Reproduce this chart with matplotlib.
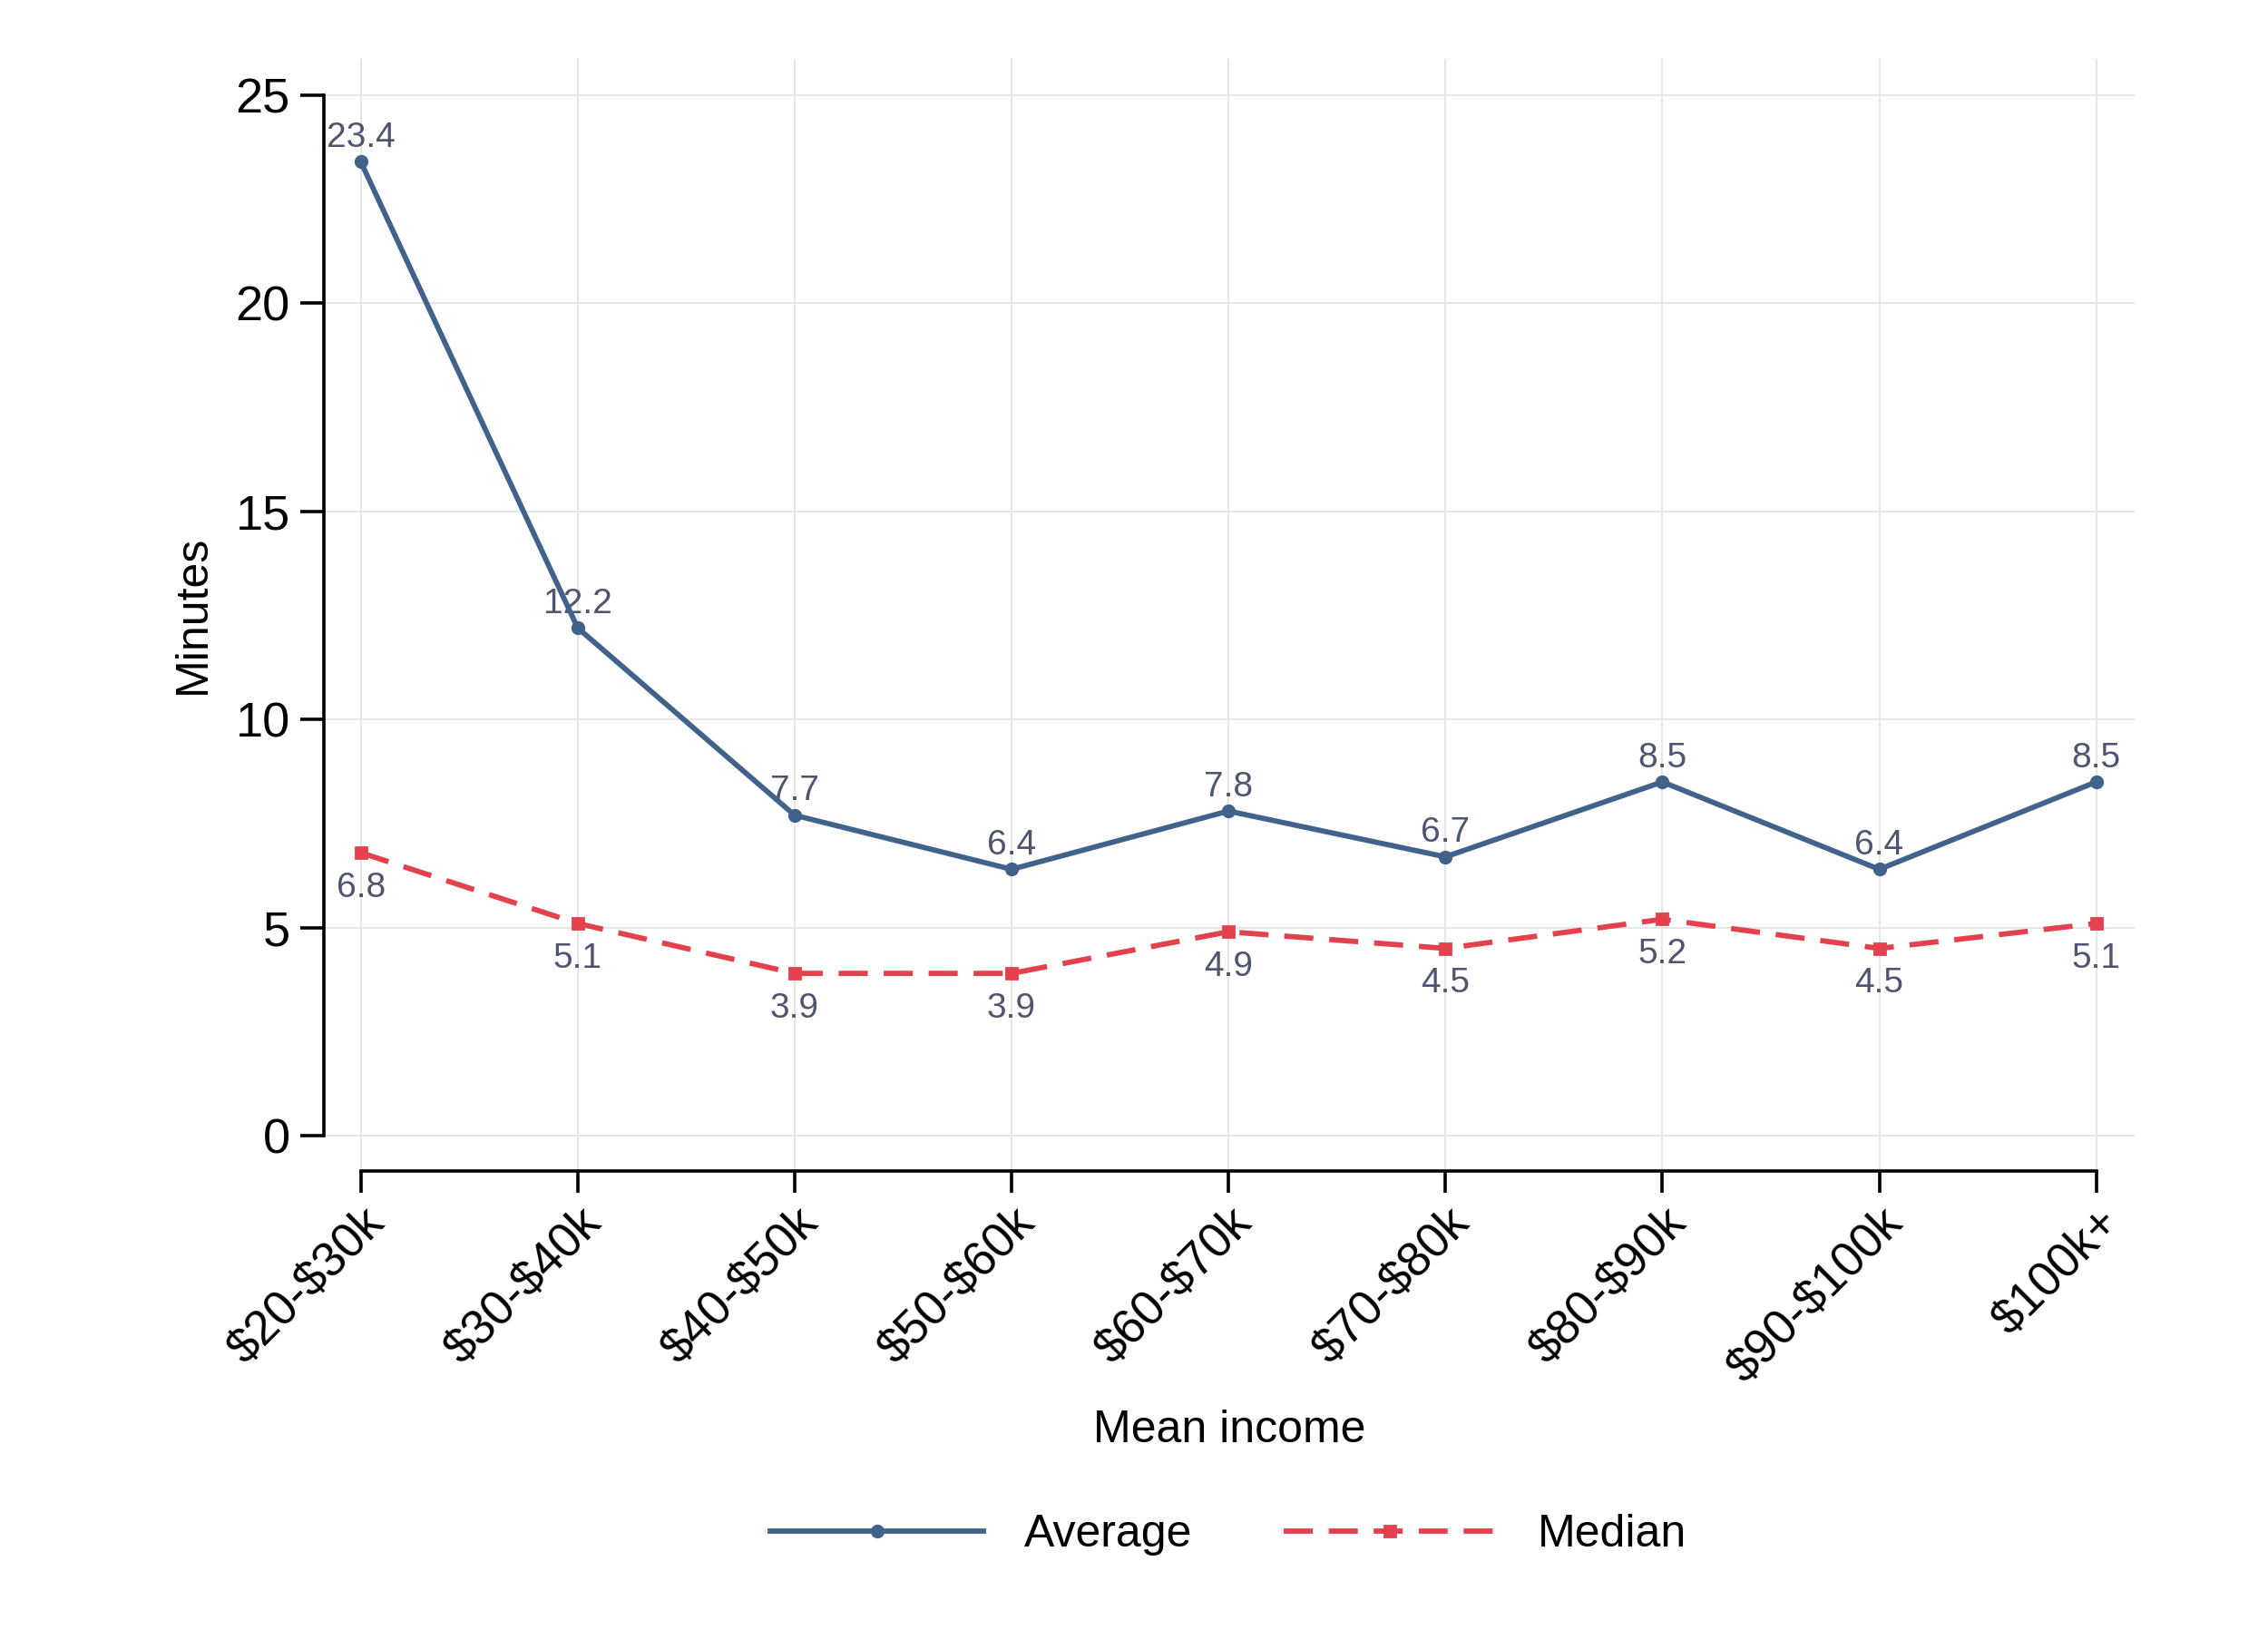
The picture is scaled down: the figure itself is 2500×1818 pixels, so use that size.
import matplotlib
matplotlib.use("Agg")
import matplotlib.pyplot as plt
import numpy as np

# ── Data ──────────────────────────────────────────────────
income_bins = ["$20-$30k", "$30-$40k", "$40-$50k", "$50-$60k", "$60-$70k",
               "$70-$80k", "$80-$90k", "$90-$100k", "$100k+"]
avg_minutes = [23.4, 12.2, 7.7, 6.4, 7.8, 6.7, 8.5, 6.4, 8.5]
med_minutes = [6.8, 5.1, 3.9, 3.9, 4.9, 4.5, 5.2, 4.5, 5.1]
y_ticks = [0, 5, 10, 15, 20, 25]

# ── Style ─────────────────────────────────────────────────
plt.rcParams.update({
    "font.family": ["Liberation Sans", "DejaVu Sans"],
    "axes.linewidth": 1.3,
    "text.parse_math": False,
})

NAVY = "#41628b"
RED = "#e3414c"
LABEL = "#4f5470"
GRID = "#e6e6ea"

fig = plt.figure(figsize=(12.5, 9.09), dpi=200)
ax = fig.add_axes([0.143, 0.290, 0.798, 0.6745])

x = np.arange(len(income_bins))

ax.plot(x, avg_minutes, "-o", color=NAVY, linewidth=2.1, markersize=4.5,
        label="Average", zorder=4)
ax.plot(x, med_minutes, "--s", color=RED, linewidth=2.1, markersize=4,
        dashes=(5.5, 3), label="Median", zorder=4)

for xi, v in zip(x, avg_minutes):
    ax.annotate(f"{v:.1f}", (xi, v), xytext=(0, 9.5), textcoords="offset points",
                ha="center", va="center", fontsize=14, color=LABEL)
for xi, v in zip(x, med_minutes):
    ax.annotate(f"{v:.1f}", (xi, v), xytext=(0, -14), textcoords="offset points",
                ha="center", va="center", fontsize=14, color=LABEL)

ax.set_xlim(-0.168, 8.175)
ax.set_ylim(-0.843, 25.88)

ax.spines["top"].set_visible(False)
ax.spines["right"].set_visible(False)
ax.spines["left"].set_bounds(0, 25)
ax.spines["bottom"].set_bounds(0, 8)

ax.set_yticks(y_ticks)
ax.set_yticklabels([str(t) for t in y_ticks], fontsize=19.5)
ax.set_xticks(x)
ax.set_xticklabels(income_bins, rotation=45, ha="right",
                   rotation_mode="anchor", fontsize=19)
ax.tick_params(axis="y", length=9.5, width=1.3, pad=4)
ax.tick_params(axis="x", length=8.5, width=1.3, pad=3)

ax.grid(True, color=GRID, linewidth=0.7)
ax.set_axisbelow(True)

ax.set_ylabel("Minutes", fontsize=18, labelpad=8.5)
ax.set_xlabel("Mean income", fontsize=18, labelpad=7)

ax.legend(loc="upper center", bbox_to_anchor=(0.4995, -0.272), ncol=2,
          frameon=False, fontsize=18, numpoints=1, handlelength=4.7,
          handletextpad=0.9, columnspacing=2.0)

fig.savefig("out.png", dpi=200, facecolor="white")
